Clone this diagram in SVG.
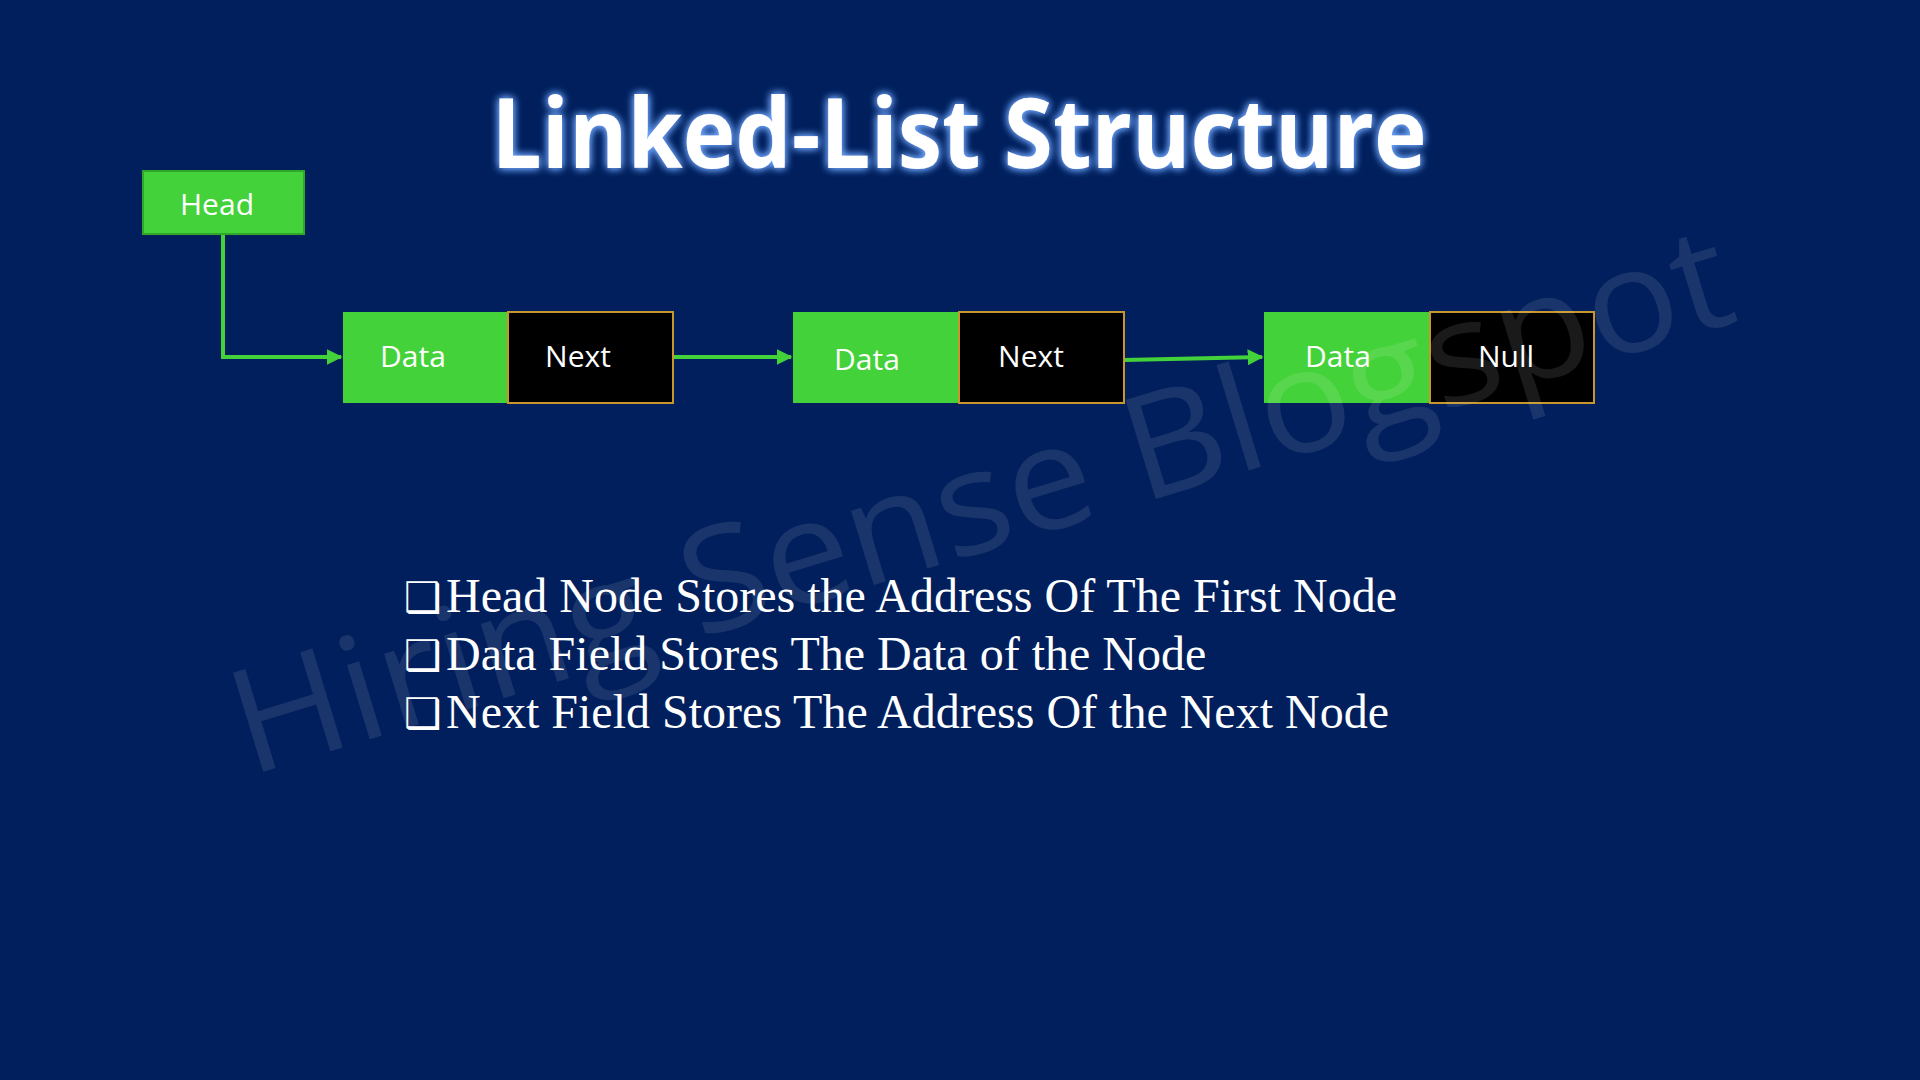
<svg xmlns="http://www.w3.org/2000/svg" width="1920" height="1080" viewBox="0 0 1920 1080">
<style>
.g{fill:#44D23A}
.b{fill:#000;stroke:#C8962A;stroke-width:2}
.t{font-family:"Open Sans","Liberation Sans",sans-serif;font-size:30px;fill:#fff;text-anchor:middle}
.c{stroke:#44D23A;stroke-width:4;fill:none;marker-end:url(#ah)}
.bl{font-family:"Liberation Serif",serif;font-size:48px;fill:#fff}
.cb{font-family:"DejaVu Sans",sans-serif;font-size:42px;font-weight:bold}
</style>
<defs>
<marker id="ah" viewBox="0 0 10 10" refX="9" refY="5" markerWidth="4" markerHeight="4" orient="auto"><path d="M0,0L10,5L0,10z" fill="#44D23A"/></marker>
<filter id="glow" x="-10%" y="-30%" width="120%" height="160%"><feGaussianBlur in="SourceAlpha" stdDeviation="4"/><feFlood flood-color="#6FA8FF"/><feComposite operator="in" in2="SourceAlpha"/><feGaussianBlur stdDeviation="4"/><feMerge><feMergeNode/><feMergeNode/><feMergeNode in="SourceGraphic"/></feMerge></filter>
</defs>
<rect width="1920" height="1080" fill="#001F5C"/>
<text x="959" y="168" font-family="Open Sans,Liberation Sans,sans-serif" font-weight="bold" font-size="96" fill="#fff" text-anchor="middle" textLength="935" lengthAdjust="spacingAndGlyphs" filter="url(#glow)">Linked-List Structure</text>
<g id="connectors">
<path class="c" d="M223,234V357H341"/>
<path class="c" d="M673,357H791"/>
<path class="c" d="M1124,360L1262,357"/>
</g>
<g id="head"><rect class="g" x="143" y="171" width="161" height="63" stroke="#2FA82A" stroke-width="2"/><text class="t" x="217" y="215">Head</text></g>
<g id="node1"><rect class="g" x="343" y="312" width="165" height="91"/><rect class="b" x="508" y="312" width="165" height="91"/><text class="t" x="413" y="367">Data</text><text class="t" x="578" y="367">Next</text></g>
<g id="node2"><rect class="g" x="793" y="312" width="166" height="91"/><rect class="b" x="959" y="312" width="165" height="91"/><text class="t" x="867" y="370">Data</text><text class="t" x="1031" y="367">Next</text></g>
<g id="node3"><rect class="g" x="1264" y="312" width="166" height="91"/><rect class="b" x="1430" y="312" width="164" height="91"/><text class="t" x="1338" y="367">Data</text><text class="t" x="1506" y="367">Null</text></g>
<g id="bullets">
<text class="bl" x="404" y="612"><tspan class="cb">❑</tspan><tspan x="446">Head Node Stores the Address Of The First Node</tspan></text>
<text class="bl" x="404" y="670"><tspan class="cb">❑</tspan><tspan x="446">Data Field Stores The Data of the Node</tspan></text>
<text class="bl" x="404" y="728"><tspan class="cb">❑</tspan><tspan x="446">Next Field Stores The Address Of the Next Node</tspan></text>
</g>
<text x="995" y="548" transform="rotate(-17 995 548)" font-family="Open Sans,Liberation Sans,sans-serif" font-size="145" fill="#fff" fill-opacity="0.1" text-anchor="middle" textLength="1560" lengthAdjust="spacingAndGlyphs">Hiring Sense Blogspot</text>
</svg>
